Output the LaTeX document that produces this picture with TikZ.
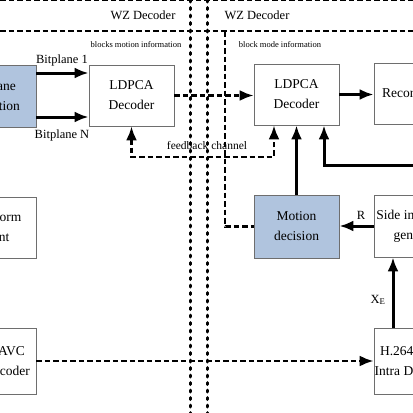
\documentclass[tikz,border=0pt]{standalone}
\usepackage{fontspec}
\setmainfont{Liberation Serif}
\usepackage{tikz}
\usetikzlibrary{arrows,arrows.meta,positioning,shapes}

\definecolor{boxblue}{RGB}{176,196,222}
\definecolor{boxline}{RGB}{110,110,110}

\begin{document}
\begin{tikzpicture}[x=1pt,y=-1pt,
            >={Latex[length=14pt,width=11pt]},
            box/.style={draw=boxline,line width=.8pt,rectangle,inner sep=0pt,align=center,
                        minimum width=85pt,minimum height=61pt,
                        font=\fontsize{13.5}{20}\selectfont},
            bluebox/.style={box,fill=boxblue},
            lab/.style={font=\fontsize{12.5}{14}\selectfont,inner sep=1pt},
            info/.style={font=\fontsize{8.5}{10}\selectfont,inner sep=1pt},
            arr/.style={draw,->,line width=3pt},
            dline/.style={draw,line width=2.5pt,dash pattern=on 5.5pt off 3pt},
            darr/.style={dline,->},
            dotline/.style={draw,line width=3pt,line cap=round,dash pattern=on 2pt off 5.5pt}
          ]
          \clip (0,0) rectangle (413,413);

          %borders of the decoder
          \draw[dline] (0,-0.3) -- (413,-0.3);
          \draw[dline] (0,31) -- (413,31);
          \draw[dotline] (190,0) -- (190,413);
          \draw[dotline] (207,0) -- (207,413);
          \node[lab] (wzl) at (143,15) {WZ Decoder};
          \node[lab] (wzr) at (257,15) {WZ Decoder};
          \node[info] (infl) at (136,45) {blocks motion information};
          \node[info] (infr) at (280,45) {block mode information};

          %boxes
          \node[bluebox,minimum width=86pt,minimum height=62pt] (bp) at (-7,96) {Bitplane\\extraction};
          \node[box] (ldl) at (131.5,95.5) {LDPCA\\Decoder};
          \node[box] (ldr) at (296.5,94.5) {LDPCA\\Decoder};
          \node[box,minimum width=98pt] (reco) at (423,93.5) {Reconstruction};
          \node[box,minimum width=86pt] (tq) at (-7,227.5) {Transform\\Quant};
          \node[bluebox,minimum height=63pt] (mot) at (296.5,226.5) {Motion\\decision};
          \node[box,minimum width=96pt,minimum height=62pt] (si) at (422,226) {Side information\\generation};
          \node[box,minimum width=86pt,minimum height=66pt] (enc) at (-7,361) {H.264/AVC\\Intra Encoder};
          \node[box,minimum width=76pt,minimum height=66pt] (intra) at (412,361) {H.264/AVC\\Intra Decoder};

          %bitplanes
          \coordinate (b1) at ([yshift=23pt]bp.east);
          \coordinate (bn) at ([yshift=-21pt]bp.east);
          \draw[arr] (b1) -- (b1 -| ldl.west);
          \draw[arr] (bn) -- (bn -| ldl.west);
          \node[lab] at (62,60) {Bitplane 1};
          \node[lab] at (62,135) {Bitplane N};

          %decoding chain
          \draw[darr] (ldl.east) -- (ldl.east -| ldr.west);
          \draw[arr] (ldr.east) -- (ldr.east -| reco.west);
          \draw[arr] (mot.north) -- (ldr.south);
          \coordinate (rin) at (420,165);
          \draw[arr] (rin) -| ([xshift=27.5pt]ldr.south);

          %feedback channel
          \coordinate (fbr) at (274,157);
          \draw[dline,<->] (ldl.south) |- (fbr) -- (fbr |- ldr.south);
          \node[lab,font=\fontsize{11.5}{13}\selectfont] at (207,146) {feedback channel};

          %mode information
          \coordinate (wzc) at (225,31);
          \draw[dline] (wzc) |- (mot.west);

          %side information
          \draw[arr] (si.west) -- (si.west -| mot.east);
          \node[lab] at (361,215) {R};
          \coordinate (xe) at ([xshift=-19pt]intra.north);
          \draw[arr] (xe) -- (xe |- si.south);
          \node[lab] at (378,300) {X\textsubscript{E}};
          \draw[darr] (enc.east) -- (intra.west);
      \end{tikzpicture}
\end{document}
